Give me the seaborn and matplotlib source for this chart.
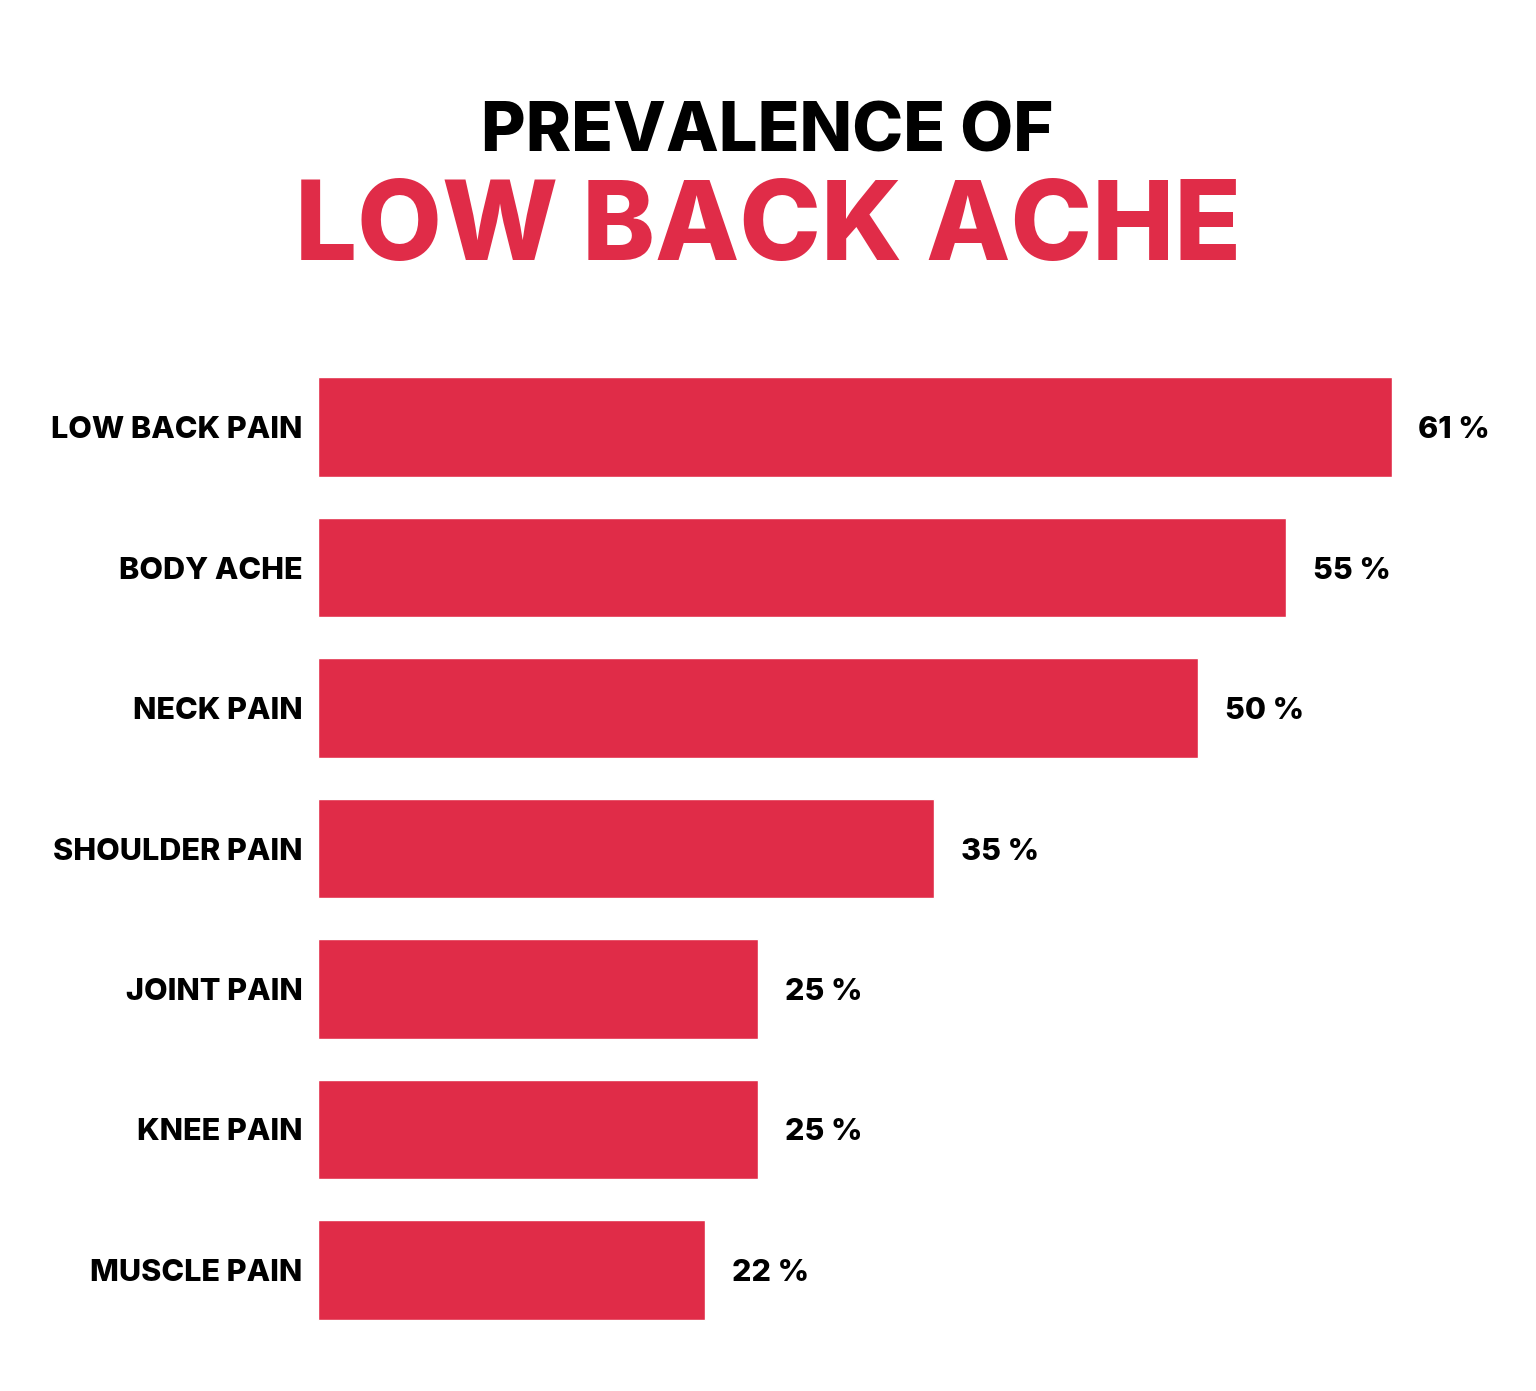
import pandas as pd
import matplotlib.pyplot as plt
import seaborn as sns

# data
categories = ['LOW BACK PAIN', 'BODY ACHE', 'NECK PAIN', 'SHOULDER PAIN',
              'JOINT PAIN', 'KNEE PAIN', 'MUSCLE PAIN']
values = [61, 55, 50, 35, 25, 25, 22]
value_labels = ['61 %', '55 %', '50 %', '35 %', '25 %', '25 %', '22 %']

RED = '#E02C48'
W, H = 1536, 1391

sns.set_theme(style='white')
plt.rcParams['font.family'] = ['Inter', 'DejaVu Sans']

df = pd.DataFrame({'cat': categories, 'val': values})

fig = plt.figure(figsize=(W / 100, H / 100), dpi=100)
fig.patch.set_facecolor('white')
ax = fig.add_axes([318 / W, 1 - 1340 / H, (1392 - 318) / W, (1340 - 357) / H])

sns.barplot(data=df, x='val', y='cat', orient='h', color=RED, saturation=1,
            width=0.71, ax=ax)
ax.set_xlim(0, 61)
ax.set_ylim(6.5, -0.5)
sns.despine(ax=ax, left=True, bottom=True)
ax.set_xticks([])
ax.set_xlabel('')
ax.set_ylabel('')
ax.tick_params(axis='y', length=0, pad=11)
for lab in ax.get_yticklabels():
    lab.set_fontsize(22)
    lab.set_fontweight('heavy')
    lab.set_color('black')
    lab.set_va('center_baseline')

for i, (v, txt) in enumerate(zip(values, value_labels)):
    ax.annotate(txt, (v, i), xytext=(19, 0), textcoords='offset points',
                va='center_baseline', ha='left', fontsize=22, fontweight='heavy',
                color='black', annotation_clip=False)

fig.text(767 / W, 1 - 152 / H, 'PREVALENCE OF', ha='center', va='baseline',
         fontsize=49.5, fontweight='heavy', color='black')
fig.text(768 / W, 1 - 260 / H, 'LOW BACK ACHE', ha='center', va='baseline',
         fontsize=79, fontweight='heavy', color=RED)

fig.savefig('out.png', dpi=100, facecolor='white')
